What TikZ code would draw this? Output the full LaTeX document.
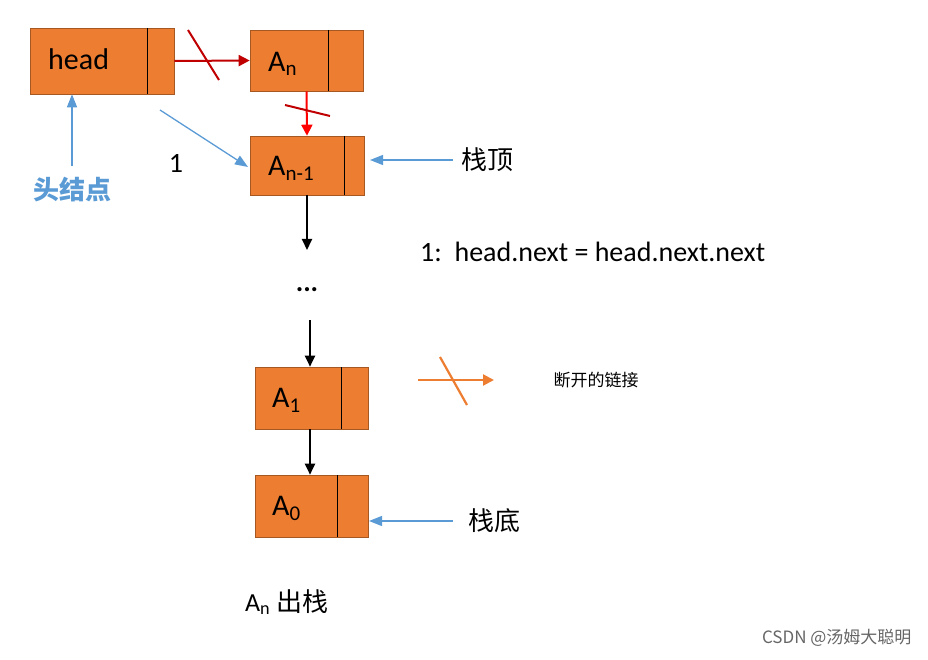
\documentclass[tikz,border=0pt]{standalone}
\usepackage{fontspec}
\setmainfont{Carlito}
\newfontfamily\cjk{Noto Sans CJK SC}
\usetikzlibrary{arrows.meta}
\definecolor{nodeor}{HTML}{ED7D31}
\definecolor{darkred}{HTML}{C00000}
\definecolor{lblue}{HTML}{5B9BD5}
\tikzset{
 cell/.style={draw=nodeor!70!black,fill=nodeor,line width=0.6pt},
 lbl/.style={font=\fontsize{30}{30}\selectfont,inner sep=0pt},
 redarr/.style={draw=darkred,line width=2pt,-{Triangle[length=11pt,width=11pt]}},
 redx/.style={draw=darkred,line width=2pt},
 bluearr/.style={draw=lblue,line width=1.3pt,-{Triangle[length=13pt,width=10pt]}},
 blackarr/.style={draw=black,line width=2pt,-{Triangle[length=11pt,width=10pt]}},
 txt/.style={font=\fontsize{28}{28}\selectfont,inner sep=0pt},
}
\begin{document}
\begin{tikzpicture}[x=1pt,y=-1pt]
\useasboundingbox (0,0) rectangle (928,660);
\newcommand\cellbox[5]{% name x1 y1 x2 y2 divider label
}
% boxes
\node[cell,minimum width=144pt,minimum height=66pt,inner sep=0pt] (head) at (102,61) {};
\draw (147,28) -- (147,94);
\node[lbl,anchor=west] at (48,59) {head};
\node[cell,minimum width=113pt,minimum height=61pt,inner sep=0pt] (an) at (306.5,60.5) {};
\draw (328,30) -- (328,91);
\node[lbl,anchor=west] at (268,64) {A\textsubscript{n}};
\node[cell,minimum width=114pt,minimum height=59pt,inner sep=0pt] (an1) at (307,165.5) {};
\draw (344,136) -- (344,195);
\node[lbl,anchor=west] at (268,168) {A\textsubscript{n-1}};
\node[cell,minimum width=113pt,minimum height=62pt,inner sep=0pt] (a1) at (311.5,398) {};
\draw (341,367) -- (341,429);
\node[lbl,anchor=west] at (272,400) {A\textsubscript{1}};
\node[cell,minimum width=113pt,minimum height=62pt,inner sep=0pt] (a0) at (311.5,506) {};
\draw (337,475) -- (337,537);
\node[lbl,anchor=west] at (272,508) {A\textsubscript{0}};
% red links
\draw[redarr] (head.east) -- (an.west);
\draw[redx] (188,30) -- (219,80);
\draw[redarr,draw=red] (an.south) -- (an1.north);
\draw[redx] (285,105) -- (330,116);
% blue
\coordinate (b1) at (160,110);
\draw[bluearr] (b1) -- (248,167);
\node[txt] (one) at (176,163) {1};
\node[font=\cjk\bfseries\fontsize{26}{26}\selectfont,text=lblue] (hj) at (72,190) {头结点};
\draw[bluearr] (hj.north) ++(0,-8) -- (head.south -| hj);
% black chain
\node[txt] (dots) at (307,290) {\textbf{...}};
\draw[blackarr] (an1.south) -- (307,250);
\draw[blackarr] (310,320) -- (a1.north -| 310,0);
\draw[blackarr] (a1.south -| 310,0) -- (a0.north -| 310,0);
% stack top/bottom
\node[font=\cjk\fontsize{26}{26}\selectfont,anchor=west] (top) at (458,160) {栈顶};
\draw[bluearr] (top.west) ++(-5,0) -- (370,160);
\node[font=\cjk\fontsize{26}{26}\selectfont,anchor=west] (bot) at (465,521) {栈底};
\draw[bluearr] (bot.west) ++(-12,0) -- (369,521);
\node[txt,anchor=west] (eq) at (420,252) {1:\ \ head.next = head.next.next};
% legend
\coordinate (l1) at (418,380);
\coordinate (l2) at (494,380);
\draw[draw=nodeor,line width=2.2pt,-{Triangle[length=11pt,width=11pt]}] (l1) -- (l2);
\draw[draw=nodeor,line width=2.2pt] (440,357) -- (467,405);
\node[font=\cjk\fontsize{17}{17}\selectfont,anchor=west] (leg) at (550,380) {断开的链接};
% caption
\node[font=\fontsize{26}{26}\selectfont,anchor=west,inner sep=0pt] (cap) at (245,602) {A\textsubscript{n} {\cjk 出栈}};
\node[font=\cjk\fontsize{17}{17}\selectfont,text=gray!80!black,anchor=east] (wm) at (915,638) {CSDN @汤姆大聪明};
\end{tikzpicture}
\end{document}
